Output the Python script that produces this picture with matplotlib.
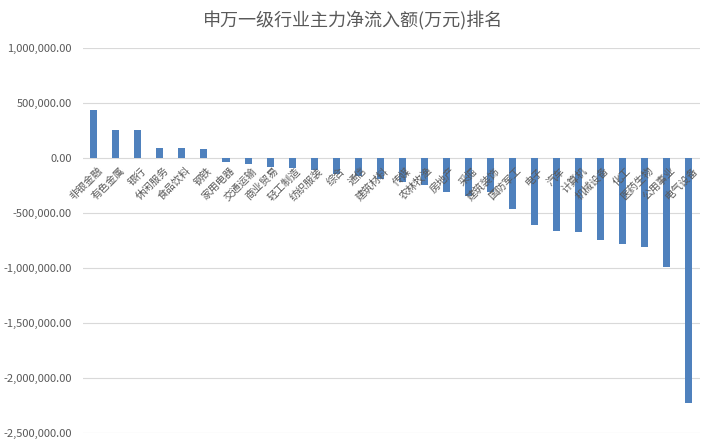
import matplotlib
matplotlib.use("Agg")
import matplotlib.pyplot as plt
from matplotlib.ticker import FuncFormatter

plt.rcParams["font.family"] = ["Noto Sans CJK SC", "DejaVu Sans"]

industries = [
    "非银金融", "有色金属", "银行", "休闲服务", "食品饮料", "钢铁", "家用电器",
    "交通运输", "商业贸易", "轻工制造", "纺织服装", "综合", "通信", "建筑材料",
    "传媒", "农林牧渔", "房地产", "采掘", "建筑装饰", "国防军工", "电子",
    "汽车", "计算机", "机械设备", "化工", "医药生物", "公用事业", "电气设备",
]
net_inflow = [
    440000, 255000, 255000, 92000, 92000, 82000, -33000,
    -52000, -79000, -88000, -106000, -143000, -161000, -191000,
    -215000, -243000, -306000, -343000, -306000, -464000, -606000,
    -661000, -670000, -743000, -779000, -806000, -995000, -2230000,
]

fig = plt.figure(figsize=(7.07, 4.45), dpi=100)
ax = fig.add_axes([0.117, 0.027, 0.873, 0.865])

x = range(len(industries))
ax.bar(x, net_inflow, width=0.32, color="#4f81bd", zorder=3)

ax.set_xlim(-0.5, len(industries) - 0.5)
ax.set_ylim(-2500000, 1000000)
ax.set_yticks(range(-2500000, 1000001, 500000))
ax.yaxis.set_major_formatter(FuncFormatter(lambda v, p: f"{v:,.2f}"))
ax.tick_params(axis="y", length=0, labelsize=8, labelcolor="#595959", pad=8)
ax.set_xticks([])
ax.grid(axis="y", color="#d9d9d9", linewidth=0.8, zorder=0)
for s in ax.spines.values():
    s.set_visible(False)

# category labels sit just under the zero line, rotated 45 degrees
for i, name in enumerate(industries):
    ax.annotate(name, (i, 0), xytext=(5, -8), textcoords="offset points",
                rotation=45, rotation_mode="anchor", ha="right", va="center",
                fontsize=7.5, color="#595959", zorder=4)

fig.suptitle("申万一级行业主力净流入额(万元)排名", x=0.5, y=0.975,
             fontsize=13, color="#595959")

fig.savefig("out.png", dpi=100)
